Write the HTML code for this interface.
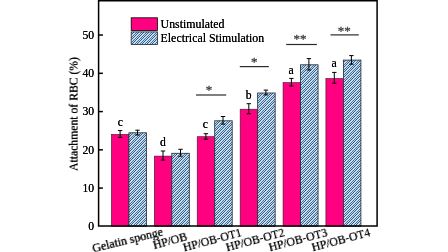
<!DOCTYPE html>
<html><head><meta charset="utf-8"><title>Attachment of RBC</title>
<style>
html,body{margin:0;padding:0;background:#fff;}
body{width:448px;height:252px;overflow:hidden;}
svg{display:block;}
text{font-family:"Liberation Serif","DejaVu Serif",serif;fill:#000;filter:url(#fb);}
</style></head><body>
<svg width="448" height="252" viewBox="0 0 448 252">
<defs>
<filter id="fb" x="-10%" y="-30%" width="120%" height="160%" color-interpolation-filters="sRGB"><feOffset in="SourceGraphic" dx="0.1" dy="0" result="o"/><feMerge><feMergeNode in="SourceGraphic"/><feMergeNode in="o"/></feMerge></filter>
<pattern id="hp" patternUnits="userSpaceOnUse" x="0" y="0" width="5" height="5" shape-rendering="crispEdges"><path d="M0,0h1v1h-1zM1,4h1v1h-1zM2,3h1v1h-1zM3,2h1v1h-1zM4,1h1v1h-1z" fill="#45566a"/><path d="M0,1h1v1h-1zM1,0h1v1h-1zM2,4h1v1h-1zM3,3h1v1h-1zM4,2h1v1h-1z" fill="#b8e0fe"/><path d="M0,2h1v1h-1zM1,1h1v1h-1zM2,0h1v1h-1zM3,4h1v1h-1zM4,3h1v1h-1z" fill="#b8e0fe"/><path d="M0,3h1v1h-1zM1,2h1v1h-1zM2,1h1v1h-1zM3,0h1v1h-1zM4,4h1v1h-1z" fill="#586d83"/><path d="M0,4h1v1h-1zM1,3h1v1h-1zM2,2h1v1h-1zM3,1h1v1h-1zM4,0h1v1h-1z" fill="#b8e0fe"/></pattern>
</defs>
<rect width="448" height="252" fill="#fff"/>

<rect x="111.40" y="134.40" width="17.5" height="91.80" fill="#ff0080" stroke="#3c1424" stroke-width="0.6"/>
<rect x="154.30" y="156.10" width="17.5" height="70.10" fill="#ff0080" stroke="#3c1424" stroke-width="0.6"/>
<rect x="197.20" y="136.70" width="17.5" height="89.50" fill="#ff0080" stroke="#3c1424" stroke-width="0.6"/>
<rect x="240.15" y="109.20" width="17.5" height="117.00" fill="#ff0080" stroke="#3c1424" stroke-width="0.6"/>
<rect x="283.05" y="82.60" width="17.5" height="143.60" fill="#ff0080" stroke="#3c1424" stroke-width="0.6"/>
<rect x="325.90" y="78.50" width="17.5" height="147.70" fill="#ff0080" stroke="#3c1424" stroke-width="0.6"/>
<rect x="128.90" y="132.80" width="17.50" height="93.40" fill="url(#hp)"/>
<rect x="171.80" y="153.30" width="17.50" height="72.90" fill="url(#hp)"/>
<rect x="214.70" y="120.80" width="17.50" height="105.40" fill="url(#hp)"/>
<rect x="257.65" y="93.00" width="17.50" height="133.20" fill="url(#hp)"/>
<rect x="300.55" y="64.80" width="17.50" height="161.40" fill="url(#hp)"/>
<rect x="343.40" y="60.10" width="17.50" height="166.10" fill="url(#hp)"/>
<rect x="131.20" y="31.90" width="26.20" height="12.60" fill="url(#hp)"/>
<rect x="128.90" y="132.80" width="17.50" height="93.40" fill="none" stroke="#25303c" stroke-width="0.85"/>
<rect x="171.80" y="153.30" width="17.50" height="72.90" fill="none" stroke="#25303c" stroke-width="0.85"/>
<rect x="214.70" y="120.80" width="17.50" height="105.40" fill="none" stroke="#25303c" stroke-width="0.85"/>
<rect x="257.65" y="93.00" width="17.50" height="133.20" fill="none" stroke="#25303c" stroke-width="0.85"/>
<rect x="300.55" y="64.80" width="17.50" height="161.40" fill="none" stroke="#25303c" stroke-width="0.85"/>
<rect x="343.40" y="60.10" width="17.50" height="166.10" fill="none" stroke="#25303c" stroke-width="0.85"/>
<rect x="131.20" y="31.90" width="26.20" height="12.60" fill="none" stroke="#25303c" stroke-width="0.85"/>
<path d="M120.10,130.60 V137.40 M117.90,130.60 H122.30 M117.90,137.40 H122.30" stroke="#000" stroke-width="1" fill="none"/>
<path d="M163.00,151.00 V160.10 M160.80,151.00 H165.20 M160.80,160.10 H165.20" stroke="#000" stroke-width="1" fill="none"/>
<path d="M205.90,133.70 V139.20 M203.70,133.70 H208.10 M203.70,139.20 H208.10" stroke="#000" stroke-width="1" fill="none"/>
<path d="M248.80,103.70 V113.80 M246.60,103.70 H251.00 M246.60,113.80 H251.00" stroke="#000" stroke-width="1" fill="none"/>
<path d="M291.40,78.40 V86.00 M289.20,78.40 H293.60 M289.20,86.00 H293.60" stroke="#000" stroke-width="1" fill="none"/>
<path d="M334.30,72.40 V83.20 M332.10,72.40 H336.50 M332.10,83.20 H336.50" stroke="#000" stroke-width="1" fill="none"/>
<path d="M137.50,130.20 V135.00 M135.30,130.20 H139.70 M135.30,135.00 H139.70" stroke="#000" stroke-width="1" fill="none"/>
<path d="M180.50,149.30 V156.20 M178.30,149.30 H182.70 M178.30,156.20 H182.70" stroke="#000" stroke-width="1" fill="none"/>
<path d="M223.00,116.50 V124.10 M220.80,116.50 H225.20 M220.80,124.10 H225.20" stroke="#000" stroke-width="1" fill="none"/>
<path d="M265.90,90.10 V94.90 M263.70,90.10 H268.10 M263.70,94.90 H268.10" stroke="#000" stroke-width="1" fill="none"/>
<path d="M308.90,58.60 V70.00 M306.70,58.60 H311.10 M306.70,70.00 H311.10" stroke="#000" stroke-width="1" fill="none"/>
<path d="M351.40,55.60 V64.20 M349.20,55.60 H353.60 M349.20,64.20 H353.60" stroke="#000" stroke-width="1" fill="none"/>
<path d="M97.85,-1H377.85V226.85H97.85Z M99.35,1.55V225.35H376.35V1.55Z" fill="#000" fill-rule="evenodd"/>
<text x="94.2" y="230.20" font-size="11.7" text-anchor="end">0</text>
<path d="M98.5,188.09 H102.9" stroke="#000" stroke-width="1.5"/>
<text x="94.2" y="191.94" font-size="11.7" text-anchor="end">10</text>
<path d="M98.5,149.83 H102.9" stroke="#000" stroke-width="1.5"/>
<text x="94.2" y="153.68" font-size="11.7" text-anchor="end">20</text>
<path d="M98.5,111.57 H102.9" stroke="#000" stroke-width="1.5"/>
<text x="94.2" y="115.42" font-size="11.7" text-anchor="end">30</text>
<path d="M98.5,73.31 H102.9" stroke="#000" stroke-width="1.5"/>
<text x="94.2" y="77.16" font-size="11.7" text-anchor="end">40</text>
<path d="M98.5,35.05 H102.9" stroke="#000" stroke-width="1.5"/>
<text x="94.2" y="38.90" font-size="11.7" text-anchor="end">50</text>
<text transform="translate(77.6,114) rotate(-90)" font-size="11.7" text-anchor="middle">Attachment of RBC (%)</text>
<rect x="131.2" y="17.8" width="26.2" height="12.6" fill="#ff0080" stroke="#000" stroke-width="0.8"/>
<text x="160.6" y="27.85" font-size="11.85">Unstimulated</text>
<text x="160.6" y="41.65" font-size="11.85">Electrical Stimulation</text>
<text x="120.3" y="126.4" font-size="11.7" text-anchor="middle">c</text>
<text x="162.8" y="145.7" font-size="11.7" text-anchor="middle">d</text>
<text x="205.3" y="127.7" font-size="11.7" text-anchor="middle">c</text>
<text x="248.7" y="98.8" font-size="11.7" text-anchor="middle">b</text>
<text x="291.1" y="74.25" font-size="11.7" text-anchor="middle">a</text>
<text x="334.0" y="66.6" font-size="11.7" text-anchor="middle">a</text>
<path d="M196.0,95.0 H226.2" stroke="#2a2a2a" stroke-width="1.2"/>
<text x="209.1" y="93.80" font-size="13" text-anchor="middle" style="fill:#3c3c3c;stroke:#3c3c3c;stroke-width:0.3px;filter:none">*</text>
<path d="M239.8,66.6 H268.8" stroke="#2a2a2a" stroke-width="1.2"/>
<text x="254.3" y="65.70" font-size="13" text-anchor="middle" style="fill:#3c3c3c;stroke:#3c3c3c;stroke-width:0.3px;filter:none">*</text>
<path d="M286.2,44.5 H316.9" stroke="#2a2a2a" stroke-width="1.2"/>
<text x="299.9" y="43.10" font-size="13" text-anchor="middle" style="fill:#3c3c3c;stroke:#3c3c3c;stroke-width:0.3px;filter:none">**</text>
<path d="M330.5,34.9 H358.8" stroke="#2a2a2a" stroke-width="1.2"/>
<text x="344.3" y="35.05" font-size="13" text-anchor="middle" style="fill:#3c3c3c;stroke:#3c3c3c;stroke-width:0.3px;filter:none">**</text>
<text transform="translate(93.4,252.5) rotate(-13.7)" font-size="12">Gelatin sponge</text>
<text transform="translate(154.3,249.3) rotate(-15.5)" font-size="11.8">HP/OB</text>
<text transform="translate(184.3,251.6) rotate(-15)" font-size="11.75">HP/OB-OT1</text>
<text transform="translate(227.15,251.5) rotate(-15)" font-size="11.75">HP/OB-OT2</text>
<text transform="translate(270.0,251.5) rotate(-15)" font-size="11.75">HP/OB-OT3</text>
<text transform="translate(312.9,251.5) rotate(-15)" font-size="11.75">HP/OB-OT4</text>
</svg></body></html>
